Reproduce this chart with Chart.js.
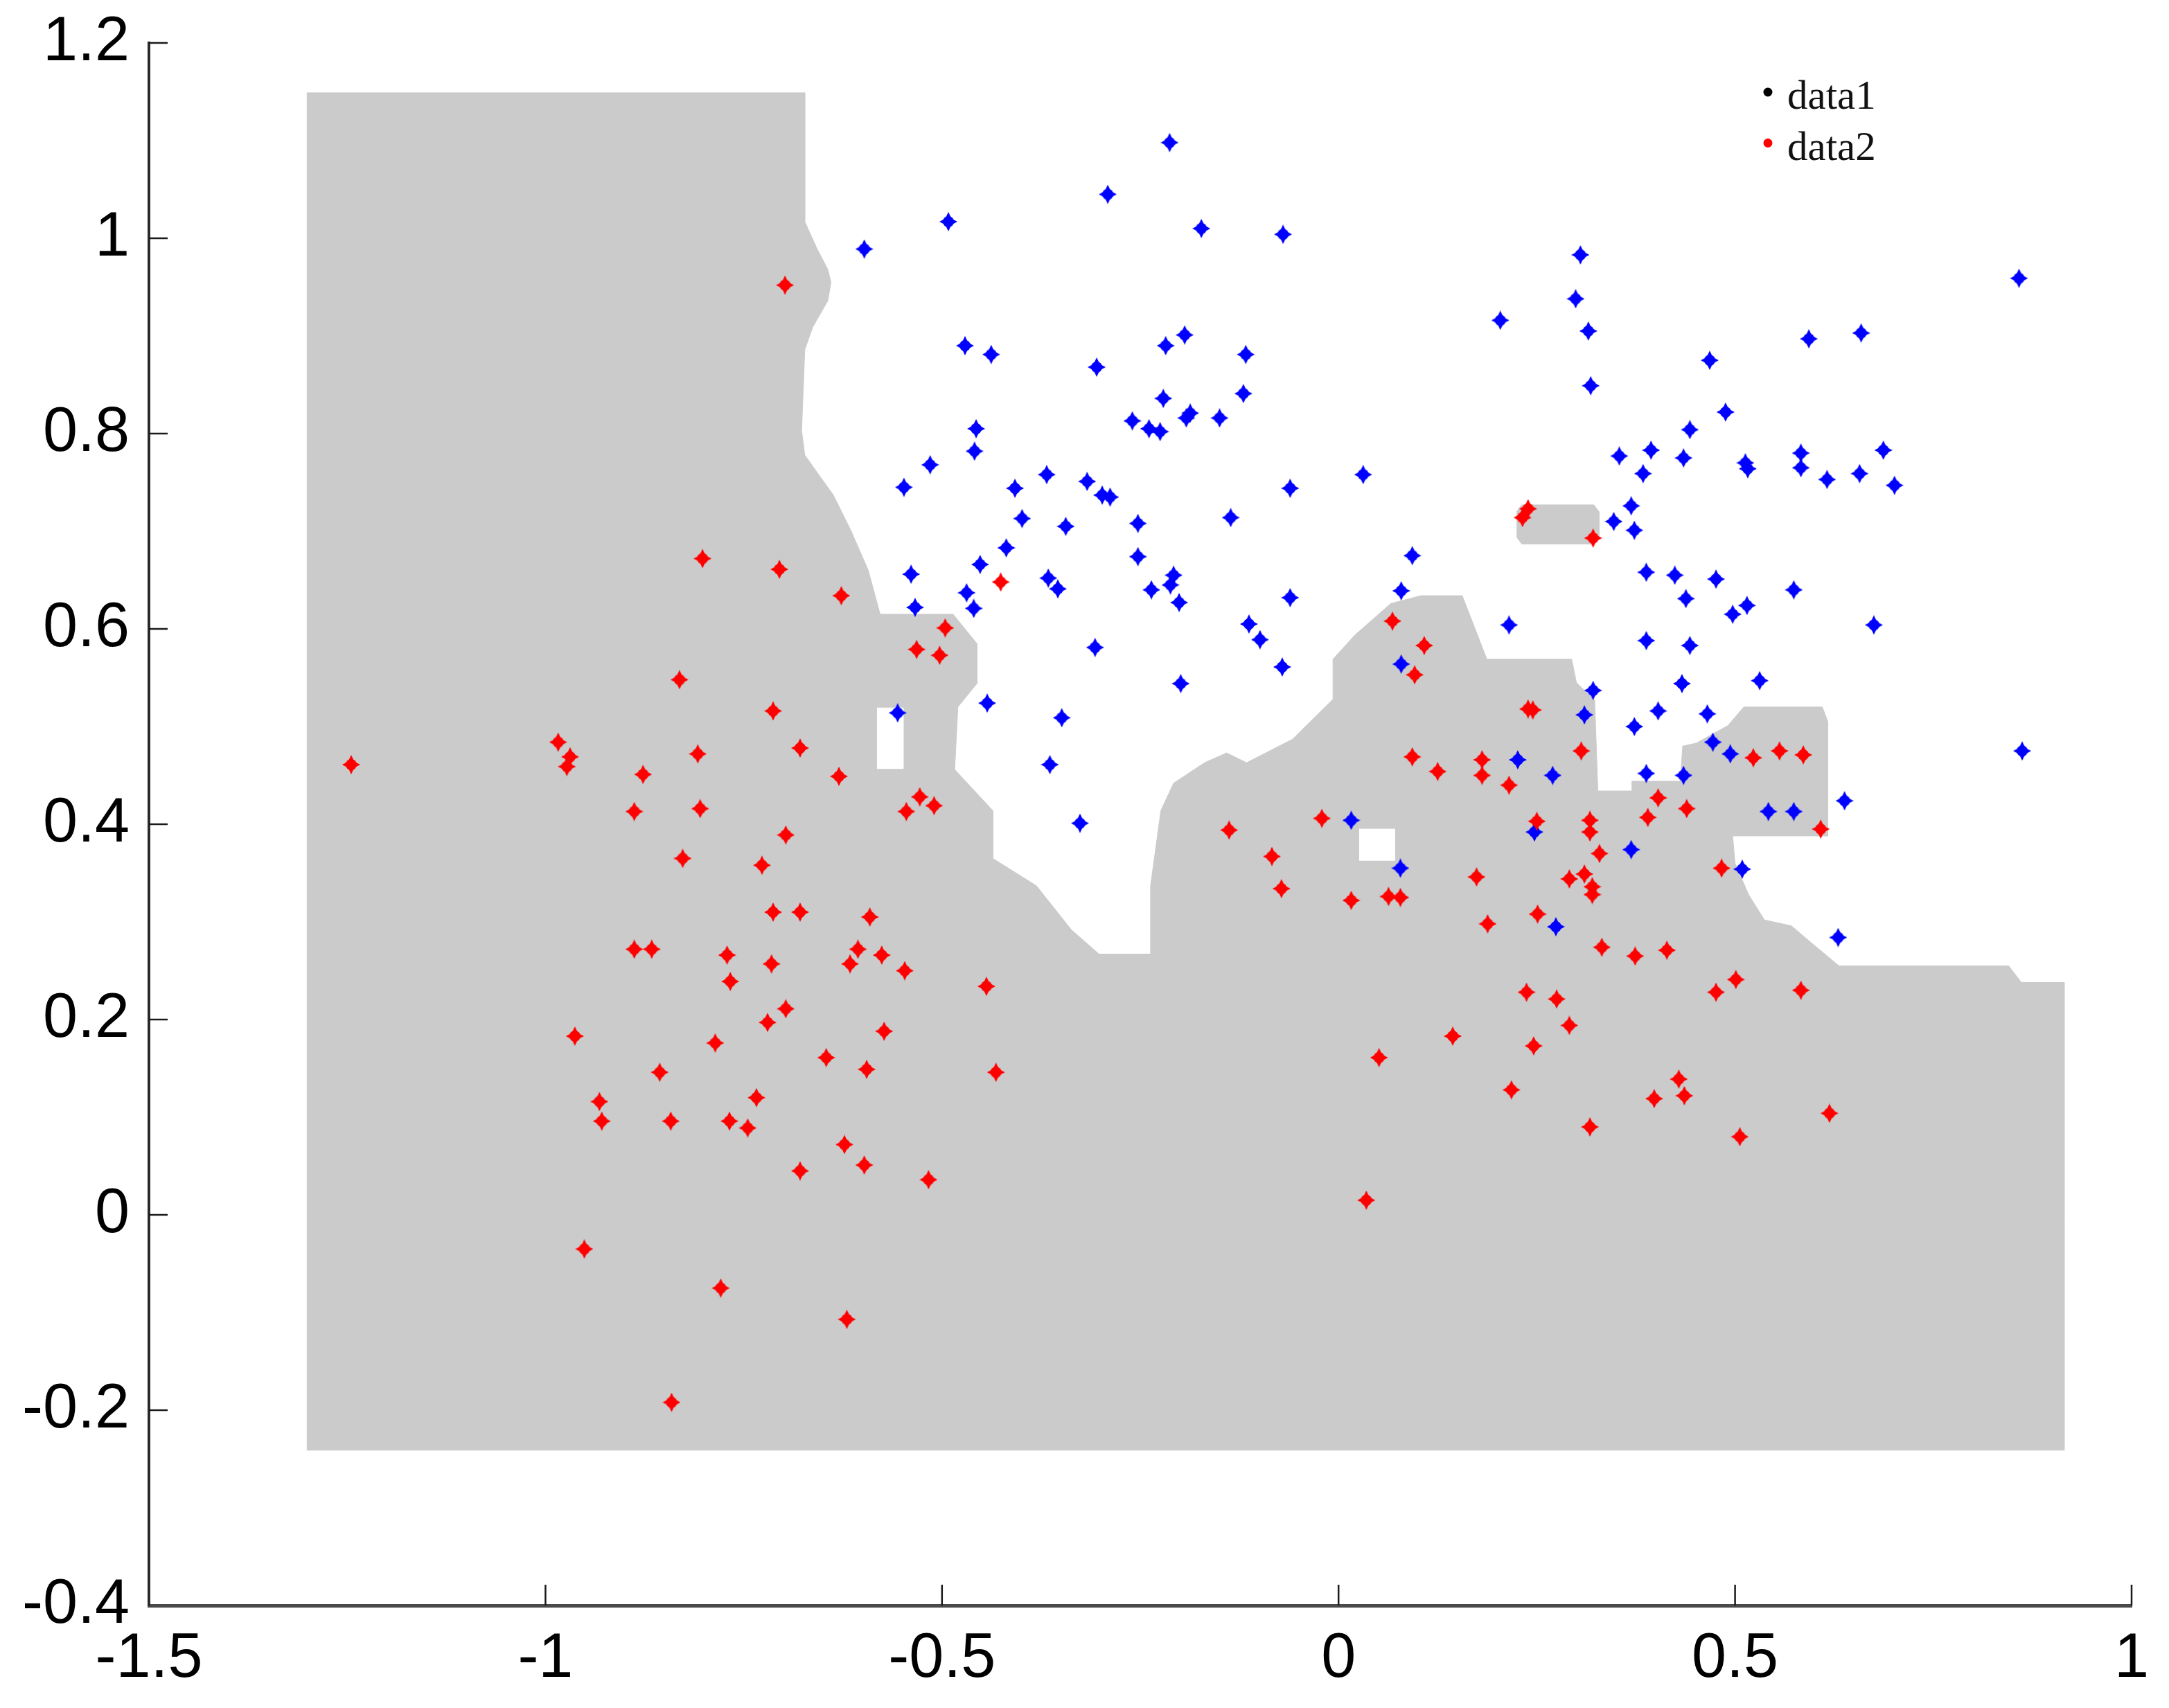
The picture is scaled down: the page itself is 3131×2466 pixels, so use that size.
<!DOCTYPE html>
<html>
<head>
<meta charset="utf-8">
<script src="https://cdn.jsdelivr.net/npm/chart.js@4.4.1/dist/chart.umd.min.js"></script>
<style>
html,body{margin:0;padding:0;background:#ffffff;}
canvas{display:block;}
</style>
</head>
<body>
<canvas id="c" width="3131" height="2466"></canvas>
<script>
// ---------------- data ----------------
const seriesNames = ['data1', 'data2'];
const legendColors = ['#000000', '#ff0000'];
const xTickLabels = ['-1.5', '-1', '-0.5', '0', '0.5', '1'];
const yTickLabels = ['-0.4', '-0.2', '0', '0.2', '0.4', '0.6', '0.8', '1', '1.2'];

const blueX = [-0.598,-0.492,-0.291,-0.213,-0.173,-0.070,-0.471,-0.438,-0.305,-0.218,
 -0.194,-0.117,-0.120,-0.221,-0.260,-0.239,-0.225,-0.192,-0.187,-0.150,
 -0.457,-0.459,-0.515,-0.548,-0.408,-0.399,-0.368,-0.344,-0.317,-0.298,
 -0.288,-0.253,-0.136,-0.061,-0.419,-0.452,-0.469,-0.539,-0.534,-0.460,
 -0.366,-0.354,-0.253,-0.236,-0.208,-0.212,-0.201,-0.061,-0.113,-0.099,
 -0.071,-0.307,-0.443,-0.556,-0.349,-0.364,-0.199,-0.326,
 0.031,0.093,0.079,0.204,0.305,0.299,0.315,0.318,0.215,0.593,
 0.659,0.858,0.468,0.488,0.443,0.394,0.354,0.384,0.435,0.513,
 0.516,0.583,0.583,0.616,0.657,0.687,0.701,0.347,0.369,0.373,
 0.388,0.424,0.438,0.476,0.497,0.515,0.574,0.675,0.388,0.443,
 0.433,0.531,0.321,0.403,0.373,0.465,0.310,0.472,0.494,0.388,
 0.435,0.270,0.226,0.079,0.542,0.574,0.638,0.862,0.247,0.369,
 0.509,0.016,0.078,0.274,0.630];
const blueY = [0.989,1.017,1.045,1.098,1.010,1.004,0.890,0.881,0.868,0.890,
 0.901,0.881,0.841,0.836,0.813,0.805,0.802,0.816,0.821,0.816,
 0.805,0.782,0.768,0.745,0.744,0.713,0.758,0.705,0.751,0.737,
 0.735,0.708,0.714,0.744,0.683,0.666,0.637,0.656,0.622,0.621,
 0.652,0.641,0.674,0.640,0.655,0.645,0.627,0.632,0.605,0.589,
 0.561,0.581,0.524,0.514,0.509,0.461,0.544,0.401,
 0.758,0.675,0.639,0.916,0.983,0.938,0.905,0.849,0.604,0.897,
 0.903,0.959,0.875,0.822,0.804,0.783,0.777,0.759,0.775,0.770,
 0.764,0.780,0.765,0.753,0.759,0.783,0.747,0.710,0.726,0.701,
 0.658,0.655,0.631,0.651,0.615,0.624,0.640,0.604,0.588,0.583,
 0.544,0.547,0.537,0.516,0.500,0.513,0.512,0.484,0.472,0.452,
 0.450,0.450,0.466,0.564,0.413,0.413,0.424,0.475,0.392,0.374,
 0.354,0.404,0.355,0.295,0.284];

const redX = [-0.698,-0.802,-0.705,-0.627,-0.426,-0.532,-0.503,-0.496,-0.831,-0.713,
 -0.984,-0.969,-0.973,-1.245,-0.877,-0.808,-0.679,-0.630,-0.888,-0.805,
 -0.528,-0.510,-0.545,-0.697,-0.827,-0.727,-0.713,-0.679,-0.591,-0.888,
 -0.866,-0.771,-0.606,-0.616,-0.576,-0.715,-0.547,-0.767,-0.697,-0.720,
 -0.444,-0.963,-0.573,-0.786,-0.646,-0.856,-0.432,-0.595,-0.932,-0.734,
 -0.929,-0.842,-0.768,-0.745,-0.623,-0.679,-0.598,-0.517,-0.951,-0.779,
 -0.620,-0.841,
 0.068,0.108,0.096,0.239,0.245,0.306,0.093,0.125,
 0.181,0.181,0.215,0.523,0.556,0.586,0.403,0.439,0.390,0.608,
 -0.021,0.250,0.317,0.317,0.329,0.483,-0.084,-0.072,0.016,0.063,
 0.078,0.174,0.291,0.310,0.320,0.320,0.251,0.188,0.332,0.374,
 0.414,0.237,0.275,0.501,0.476,0.583,0.291,0.144,-0.138,0.246,
 0.051,0.218,0.429,0.436,0.398,0.317,0.506,0.619,0.035,
 0.239,0.232,0.321];
const redY = [0.952,0.672,0.661,0.634,0.648,0.579,0.573,0.601,0.548,0.516,
 0.484,0.469,0.459,0.461,0.451,0.472,0.478,0.449,0.413,0.416,
 0.428,0.419,0.413,0.389,0.365,0.358,0.310,0.310,0.305,0.272,
 0.272,0.266,0.272,0.257,0.266,0.257,0.250,0.239,0.211,0.197,
 0.234,0.183,0.188,0.176,0.161,0.146,0.146,0.149,0.116,0.120,
 0.096,0.096,0.096,0.089,0.072,0.045,0.051,0.036,-0.035,-0.075,
 -0.107,-0.192,
 0.608,0.583,0.553,0.518,0.517,0.475,0.469,0.454,
 0.466,0.450,0.440,0.468,0.475,0.471,0.427,0.416,0.407,0.395,
 0.406,0.403,0.404,0.392,0.370,0.355,0.367,0.334,0.322,0.326,
 0.325,0.346,0.344,0.349,0.336,0.328,0.308,0.298,0.274,0.265,
 0.271,0.228,0.221,0.241,0.228,0.230,0.194,0.183,0.394,0.173,
 0.161,0.128,0.139,0.122,0.119,0.090,0.080,0.104,0.015,
 0.723,0.714,0.693];

// decision region outline (grey), traced clockwise
const regionX = [-1.301,-0.673,-0.673,-0.658,-0.644,-0.640,-0.644,-0.663,-0.673,-0.677,
 -0.673,-0.637,-0.615,-0.593,-0.578,-0.486,-0.456,-0.456,-0.480,-0.484,
 -0.436,-0.436,-0.381,-0.337,-0.302,-0.237,-0.237,-0.224,-0.208,-0.169,
 -0.141,-0.116,-0.058,-0.007,-0.007,0.021,0.066,0.104,0.156,0.187,
 0.294,0.300,0.323,0.327,0.370,0.370,0.431,0.434,0.451,0.491,
 0.511,0.610,0.617,0.617,0.497,0.500,0.517,0.537,0.571,0.597,
 0.631,0.845,0.861,0.915,0.915,-1.301];
const regionY = [1.149,1.149,1.017,0.990,0.968,0.955,0.936,0.909,0.886,0.803,
 0.778,0.737,0.701,0.660,0.615,0.615,0.585,0.544,0.520,0.456,
 0.414,0.365,0.337,0.292,0.267,0.267,0.337,0.414,0.442,0.463,
 0.473,0.463,0.487,0.528,0.569,0.594,0.626,0.634,0.634,0.569,
 0.569,0.545,0.527,0.434,0.434,0.444,0.444,0.480,0.483,0.501,
 0.520,0.520,0.505,0.388,0.388,0.360,0.328,0.302,0.296,0.278,
 0.255,0.255,0.238,0.238,-0.241,-0.241];
const islandX = [0.2245,0.231,0.322,0.3284,0.3284,0.322,0.231,0.2245];
const islandY = [0.720,0.727,0.727,0.720,0.694,0.687,0.687,0.694];
const hole1X = [-0.582,-0.549,-0.549,-0.582];
const hole1Y = [0.519,0.519,0.457,0.457];
const hole2X = [0.026,0.071,0.071,0.026];
const hole2Y = [0.395,0.395,0.363,0.363];

// ---------------- helpers ----------------
const pts = (xs, ys) => xs.map((x, i) => ({x: x, y: ys[i]}));

function marker(color) {
  const c = document.createElement('canvas');
  c.width = 26; c.height = 28;
  const g = c.getContext('2d');
  g.fillStyle = color;
  g.beginPath();
  g.moveTo(13, 0); g.lineTo(17.5, 9.5); g.lineTo(26, 14); g.lineTo(17.5, 18.5);
  g.lineTo(13, 28); g.lineTo(8.5, 18.5); g.lineTo(0, 14); g.lineTo(8.5, 9.5);
  g.closePath(); g.fill();
  g.beginPath(); g.arc(13, 14, 8, 0, Math.PI * 2); g.fill();
  return c;
}

const GREY = '#cbcbcb';
function shapeSet(xs, ys, color, order) {
  return {
    type: 'line', data: pts(xs, ys), fill: 'shape',
    backgroundColor: color, borderColor: color, borderWidth: 1,
    pointRadius: 0, tension: 0, order: order
  };
}

const tickMarks = {
  id: 'tickMarks',
  afterDraw(chart) {
    const {ctx, chartArea: a} = chart;
    const xs = chart.scales.x, ys = chart.scales.y;
    ctx.save();
    ctx.strokeStyle = '#1a1a1a';
    ctx.lineWidth = 2.5;
    ctx.beginPath();
    xs.ticks.forEach(t => {
      if (Math.abs(t.value - xs.min) < 1e-9) return;
      const px = xs.getPixelForValue(t.value);
      ctx.moveTo(px, a.bottom); ctx.lineTo(px, a.bottom - 30);
    });
    ys.ticks.forEach(t => {
      if (Math.abs(t.value - ys.min) < 1e-9) return;
      const py = ys.getPixelForValue(t.value);
      ctx.moveTo(a.left, py); ctx.lineTo(a.left + 27, py);
    });
    ctx.stroke();
    ctx.restore();
  }
};

const legendBox = {
  id: 'legendBox',
  afterDraw(chart) {
    const {ctx, chartArea: a} = chart;
    ctx.save();
    ctx.font = '59px "Liberation Serif", "Times New Roman", serif';
    ctx.textAlign = 'left';
    ctx.textBaseline = 'alphabetic';
    seriesNames.forEach((name, i) => {
      const dy = i * 73.5;
      ctx.fillStyle = legendColors[i];
      ctx.beginPath();
      ctx.arc(a.right - 525, a.top + 71 + dy, 6.5, 0, Math.PI * 2);
      ctx.fill();
      ctx.fillStyle = '#111111';
      ctx.fillText(name, a.right - 497, a.top + 95 + dy);
    });
    ctx.restore();
  }
};

const tickFont = {family: '"Liberation Sans", Arial, sans-serif', size: 90};
const noPad = (s) => { s.paddingTop = 0; s.paddingBottom = 0; s.paddingLeft = 0; s.paddingRight = 0; };

new Chart(document.getElementById('c'), {
  type: 'scatter',
  data: {
    datasets: [
      shapeSet(regionX, regionY, GREY, 10),
      shapeSet(islandX, islandY, GREY, 10),
      shapeSet(hole1X, hole1Y, '#ffffff', 9),
      shapeSet(hole2X, hole2Y, '#ffffff', 9),
      { label: 'blue', data: pts(blueX, blueY), pointStyle: marker('#0000ff'),
        pointRadius: 10, order: 2 },
      { label: seriesNames[1], data: pts(redX, redY), pointStyle: marker('#ff0000'),
        pointRadius: 10, order: 1 }
    ]
  },
  options: {
    responsive: false,
    devicePixelRatio: 1,
    animation: false,
    events: [],
    layout: {padding: {top: 62, right: 54, left: 0, bottom: 0}},
    plugins: {legend: {display: false}, tooltip: {enabled: false}},
    scales: {
      x: {
        type: 'linear', min: -1.5, max: 1,
        grid: {display: false, drawTicks: false},
        border: {display: true, color: '#4a4a4a', width: 5},
        ticks: {
          stepSize: 0.5, padding: 24, color: '#000000', font: tickFont,
          maxRotation: 0, autoSkip: false,
          callback: (v) => xTickLabels.find(l => Math.abs(parseFloat(l) - v) < 1e-6) || ''
        },
        afterFit: (s) => { s.height = 148; noPad(s); }
      },
      y: {
        type: 'linear', min: -0.4, max: 1.2,
        grid: {display: false, drawTicks: false},
        border: {display: true, color: '#2a2a2a', width: 4},
        ticks: {
          stepSize: 0.2, padding: 28, color: '#000000', font: tickFont, autoSkip: false,
          callback: (v) => yTickLabels.find(l => Math.abs(parseFloat(l) - v) < 1e-6) || ''
        },
        afterFit: (s) => { s.width = 215; noPad(s); }
      }
    }
  },
  plugins: [tickMarks, legendBox]
});
</script>
</body>
</html>
